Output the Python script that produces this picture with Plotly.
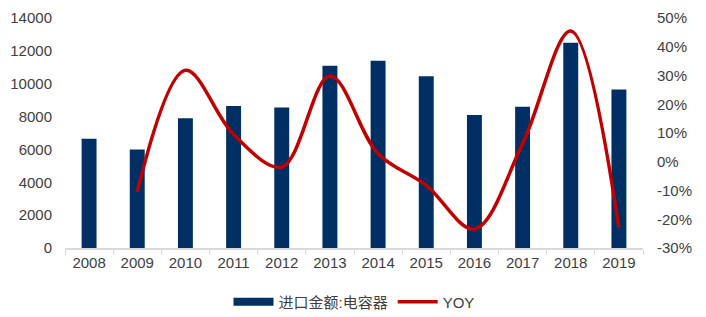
import plotly.graph_objects as go

years = ["2008", "2009", "2010", "2011", "2012", "2013", "2014", "2015", "2016", "2017", "2018", "2019"]
import_value = [6650, 6000, 7900, 8650, 8550, 11100, 11400, 10450, 8100, 8600, 12500, 9650]
yoy = [None, -10.5, 31.8, 9.5, -1.8, 29.8, 2.8, -8.2, -23.4, 6.3, 45.5, -23.0]
left_ticks = [0, 2000, 4000, 6000, 8000, 10000, 12000, 14000]
right_ticks = [-30, -20, -10, 0, 10, 20, 30, 40, 50]
right_labels = ["-30%", "-20%", "-10%", "0%", "10%", "20%", "30%", "40%", "50%"]

bar_name = "进口金额:电容器"
line_name = "YOY"
navy = "#003063"
red = "#C00000"
txt = "#404040"
font_family = "Arial, 'Liberation Sans', 'Noto Sans CJK SC', sans-serif"

fig = go.Figure()
fig.add_trace(go.Bar(x=years, y=import_value, name=bar_name, marker=dict(color=navy, line=dict(width=0)),
                     showlegend=False, yaxis="y"))
fig.add_trace(go.Scatter(x=[None], y=[None], mode="lines", name=bar_name,
                         line=dict(color=navy, width=8), yaxis="y"))
fig.add_trace(go.Scatter(x=years, y=yoy, name=line_name, mode="lines",
                         line=dict(color=red, width=3.5, shape="spline", smoothing=1.0),
                         connectgaps=False, yaxis="y2"))

fig.update_layout(
    width=706, height=317,
    margin=dict(l=65, r=63, t=18, b=69, pad=0, autoexpand=False),
    paper_bgcolor="white", plot_bgcolor="white",
    font=dict(family=font_family, size=15, color=txt),
    bargap=0.69,
    showlegend=True,
    legend=dict(orientation="h", x=0.5, xanchor="center", y=-0.235, yanchor="middle",
                font=dict(size=15, color=txt), itemwidth=40, tracegroupgap=0,
                bgcolor="rgba(0,0,0,0)"),
    xaxis=dict(type="category", showgrid=False, showline=True, linecolor="#D9D9D9", linewidth=1.5,
               ticks="outside", tickson="boundaries", ticklen=5, tickcolor="#D9D9D9",
               tickfont=dict(size=15, color=txt), zeroline=False, automargin=False),
    yaxis=dict(range=[0, 14000], tickmode="array", tickvals=left_ticks,
               ticktext=[str(v) for v in left_ticks], showgrid=False, zeroline=False, showline=False,
               tickfont=dict(size=15, color=txt), ticklabelstandoff=12, automargin=False),
    yaxis2=dict(range=[-30, 50], tickmode="array", tickvals=right_ticks, ticktext=right_labels,
                overlaying="y", side="right", showgrid=False,
                zeroline=False, showline=False, automargin=False,
                tickfont=dict(size=15, color=txt), ticklabelstandoff=13),
)

fig.write_html("out.html")
